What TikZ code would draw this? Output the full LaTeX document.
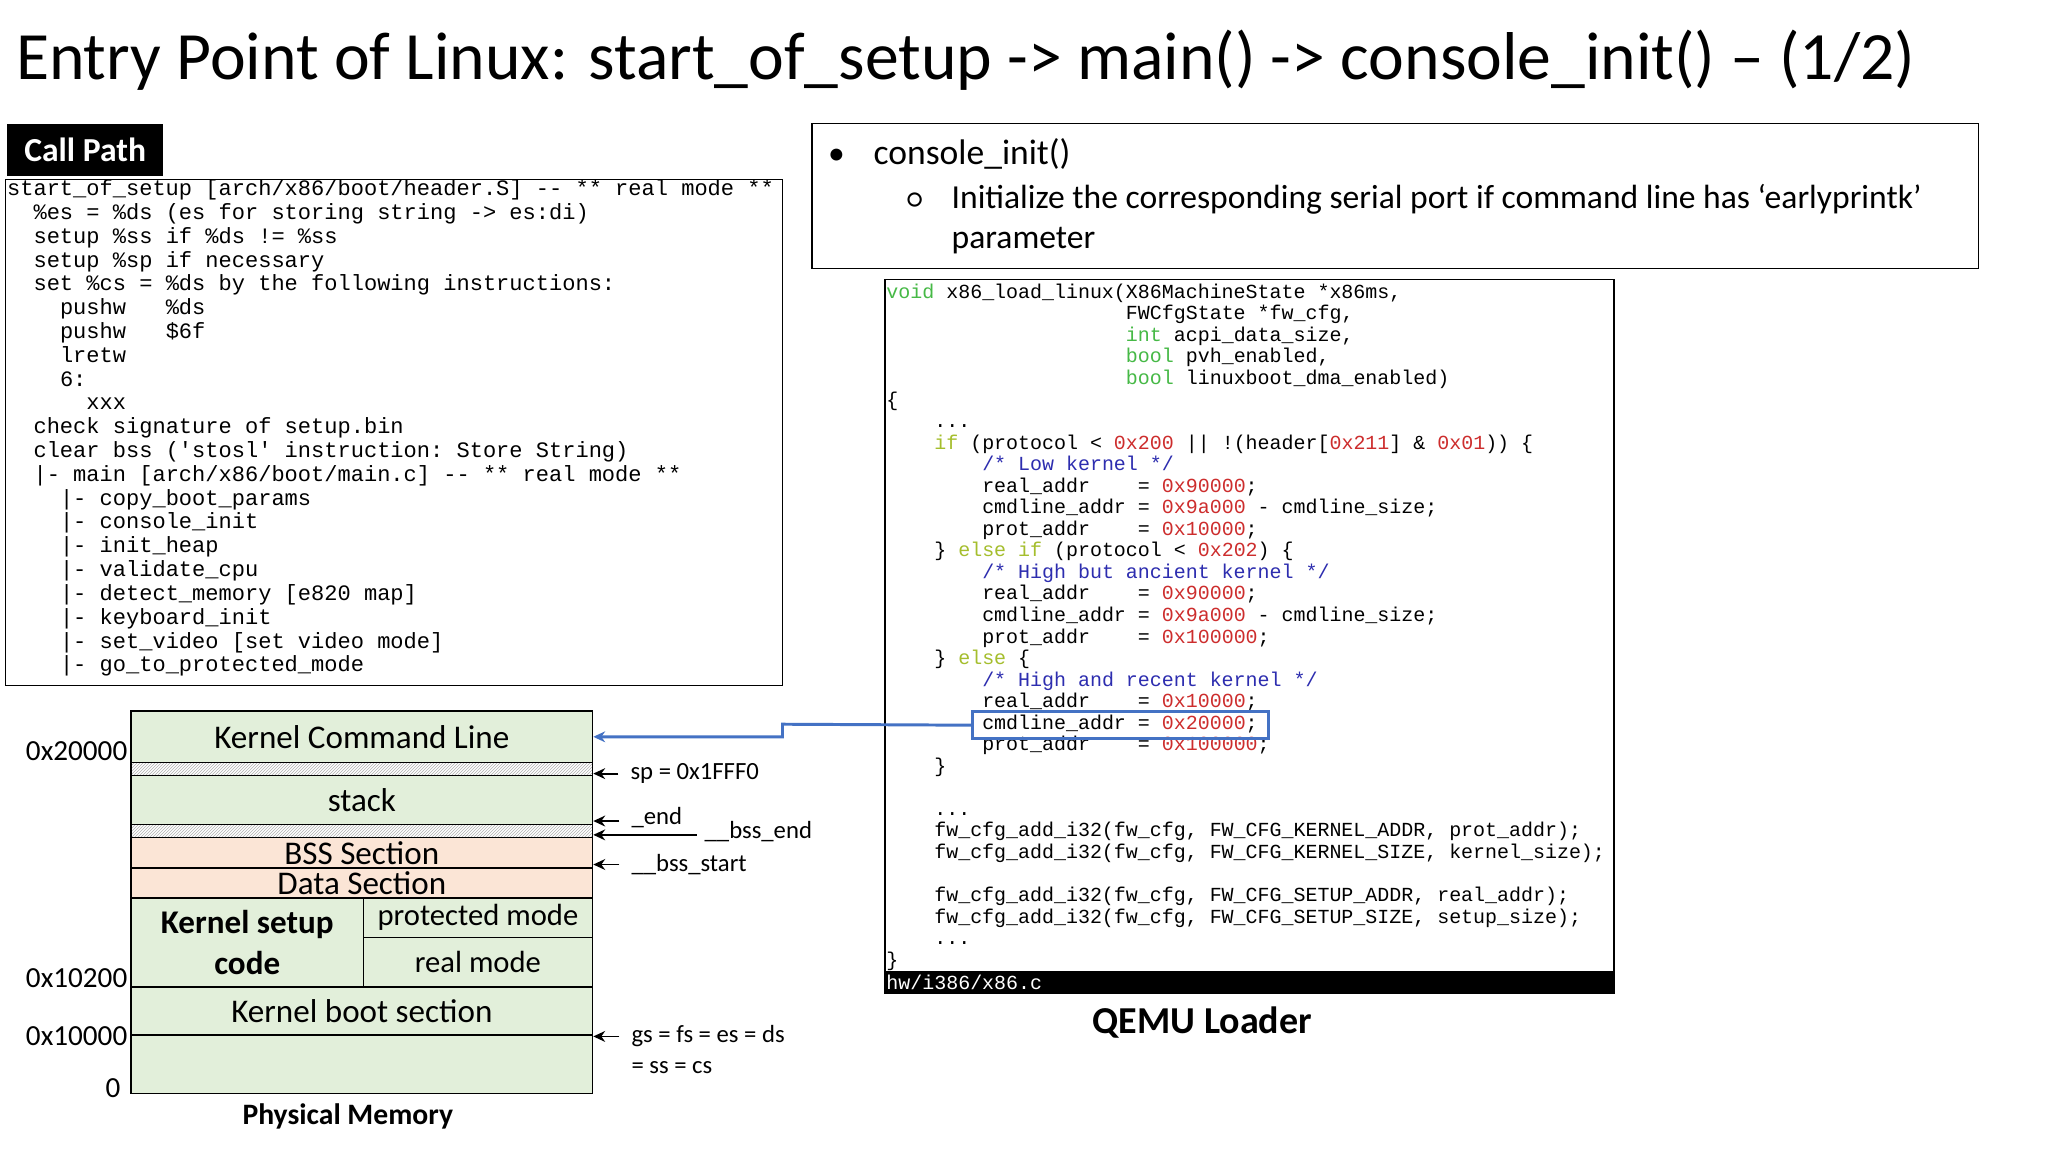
\documentclass[tikz,border=0pt]{standalone}
\usepackage{fontspec}
\setmainfont{Carlito}
\setmonofont{Liberation Mono}
\usetikzlibrary{patterns,arrows.meta}
\definecolor{kw}{RGB}{70,185,70}
\definecolor{kif}{RGB}{165,190,45}
\definecolor{num}{RGB}{205,45,45}
\definecolor{cmt}{RGB}{45,45,175}
\definecolor{memg}{RGB}{226,239,218}
\definecolor{memp}{RGB}{251,229,214}
\definecolor{hlb}{RGB}{68,114,196}
\newcommand\K[1]{\textcolor{kw}{#1}}
\newcommand\I[1]{\textcolor{kif}{#1}}
\newcommand\N[1]{\textcolor{num}{#1}}
\newcommand\C[1]{\textcolor{cmt}{#1}}
\newcounter{ln}
\newcommand\LL[2]{\stepcounter{ln}\node[lcode] (l\theln) at (7,{198+24.1*#1}) {#2};}
\newcommand\QL[2]{\stepcounter{ln}\node[qcode] (q\theln) at (897,{302+21.8*#1}) {#2};}
\begin{document}
\begin{tikzpicture}[x=1pt,y=-1pt,
  lcode/.style={anchor=base west,inner sep=0,font=\fontsize{22.3}{24}\ttfamily},
  qcode/.style={anchor=base west,inner sep=0,font=\fontsize{20.2}{22}\ttfamily},
  mem/.style={draw,line width=1.5pt,fill=memg,anchor=north west,inner sep=0,font=\fontsize{33.5}{36}\selectfont},
  hatch/.style={draw,line width=1.5pt,pattern=north east lines,pattern color=gray!60,anchor=north west,inner sep=0,minimum width=467pt},
  addr/.style={anchor=east,inner sep=0,font=\fontsize{29.5}{31}\selectfont},
  rl/.style={anchor=west,inner sep=0,font=\fontsize{25}{27}\selectfont},
  rarr/.style={-{Stealth[length=12pt,width=11pt]},line width=1.8pt}]
\useasboundingbox (0,0) rectangle (2048,1152);
\fill[white] (0,0) rectangle (2048,1152);
\begin{scope}[transform canvas={scale=0.988}]
% title
\node[anchor=base west,inner sep=0,font=\fontsize{68.5}{72}\selectfont] (title) at (16,80) {Entry Point of Linux: start\_of\_setup -> main() -> console\_init() – (1/2)};
% call path
\node[fill=black,text=white,anchor=north west,minimum width=158pt,minimum height=53pt,inner sep=0,font=\fontsize{34}{36}\bfseries] (cp) at (7,125) {Call Path};
\node[draw,line width=1.5pt,anchor=north west,minimum width=786pt,minimum height=512pt,inner sep=0] (cbox) at (5,181) {};
\LL{0}{start\_of\_setup [arch/x86/boot/header.S] -- ** real mode **}
\LL{1}{~~\%es = \%ds (es for storing string -> es:di)}
\LL{2}{~~setup \%ss if \%ds != \%ss}
\LL{3}{~~setup \%sp if necessary}
\LL{4}{~~set \%cs = \%ds by the following instructions:}
\LL{5}{~~~~pushw~~~\%ds}
\LL{6}{~~~~pushw~~~\$6f}
\LL{7}{~~~~lretw}
\LL{8}{~~~~6:}
\LL{9}{~~~~~~xxx}
\LL{10}{~~check signature of setup.bin}
\LL{11}{~~clear bss ('stosl' instruction: Store String)}
\LL{12}{~~|- main [arch/x86/boot/main.c] -- ** real mode **}
\LL{13}{~~~~|- copy\_boot\_params}
\LL{14}{~~~~|- console\_init}
\LL{15}{~~~~|- init\_heap}
\LL{16}{~~~~|- validate\_cpu}
\LL{17}{~~~~|- detect\_memory [e820 map]}
\LL{18}{~~~~|- keyboard\_init}
\LL{19}{~~~~|- set\_video [set video mode]}
\LL{20}{~~~~|- go\_to\_protected\_mode}
% bullet box
\node[draw,line width=1.5pt,anchor=north west,minimum width=1181pt,minimum height=147pt,inner sep=0] (bbox) at (821,124) {};
\node[anchor=base west,inner sep=0,font=\fontsize{34}{36}\selectfont] (b1) at (838,166) {•};
\node[anchor=base west,inner sep=0,font=\fontsize{36}{38}\selectfont] (b1t) at (884,166) {console\_init()};
\node[anchor=base west,inner sep=0,font=\fontsize{28}{32}\selectfont] (b2) at (918,211) {○};
\node[anchor=base west,inner sep=0,font=\fontsize{34}{36}\selectfont] (b2t) at (963,211) {Initialize the corresponding serial port if command line has ‘earlyprintk’};
\node[anchor=base west,inner sep=0,font=\fontsize{34}{36}\selectfont] (b3t) at (963,252) {parameter};
% qemu box
\node[draw,line width=1.5pt,anchor=north west,minimum width=738pt,minimum height=723pt,inner sep=0] (qbox) at (895,282) {};
\node[fill=black,anchor=north west,minimum width=738pt,minimum height=22pt,inner sep=0] (qbar) at (895,983) {};
\node[anchor=west,inner sep=0,text=white,font=\fontsize{20.2}{22}\ttfamily] (qfile) at (897,994) {hw/i386/x86.c};
\QL{0}{\K{void} x86\_load\_linux(X86MachineState *x86ms,}
\QL{1}{~~~~~~~~~~~~~~~~~~~~FWCfgState *fw\_cfg,}
\QL{2}{~~~~~~~~~~~~~~~~~~~~\K{int} acpi\_data\_size,}
\QL{3}{~~~~~~~~~~~~~~~~~~~~\K{bool} pvh\_enabled,}
\QL{4}{~~~~~~~~~~~~~~~~~~~~\K{bool} linuxboot\_dma\_enabled)}
\QL{5}{\{}
\QL{6}{~~~~...}
\QL{7}{~~~~\I{if} (protocol < \N{0x200} || !(header[\N{0x211}] \& \N{0x01})) \{}
\QL{8}{~~~~~~~~\C{/* Low kernel */}}
\QL{9}{~~~~~~~~real\_addr~~~~= \N{0x90000};}
\QL{10}{~~~~~~~~cmdline\_addr = \N{0x9a000} - cmdline\_size;}
\QL{11}{~~~~~~~~prot\_addr~~~~= \N{0x10000};}
\QL{12}{~~~~\} \I{else if} (protocol < \N{0x202}) \{}
\QL{13}{~~~~~~~~\C{/* High but ancient kernel */}}
\QL{14}{~~~~~~~~real\_addr~~~~= \N{0x90000};}
\QL{15}{~~~~~~~~cmdline\_addr = \N{0x9a000} - cmdline\_size;}
\QL{16}{~~~~~~~~prot\_addr~~~~= \N{0x100000};}
\QL{17}{~~~~\} \I{else} \{}
\QL{18}{~~~~~~~~\C{/* High and recent kernel */}}
\QL{19}{~~~~~~~~real\_addr~~~~= \N{0x10000};}
\QL{20}{~~~~~~~~cmdline\_addr = \N{0x20000};}
\QL{21}{~~~~~~~~prot\_addr~~~~= \N{0x100000};}
\QL{22}{~~~~\}}
\QL{24}{~~~~...}
\QL{25}{~~~~fw\_cfg\_add\_i32(fw\_cfg, FW\_CFG\_KERNEL\_ADDR, prot\_addr);}
\QL{26}{~~~~fw\_cfg\_add\_i32(fw\_cfg, FW\_CFG\_KERNEL\_SIZE, kernel\_size);}
\QL{28}{~~~~fw\_cfg\_add\_i32(fw\_cfg, FW\_CFG\_SETUP\_ADDR, real\_addr);}
\QL{29}{~~~~fw\_cfg\_add\_i32(fw\_cfg, FW\_CFG\_SETUP\_SIZE, setup\_size);}
\QL{30}{~~~~...}
\QL{31}{\}}
\node[draw=hlb,line width=3pt,anchor=north west,minimum width=299pt,minimum height=27pt,inner sep=0] (hl) at (983,719) {};
\node[anchor=base,inner sep=0,font=\fontsize{38.5}{40}\bfseries] (qemu) at (1217,1046) {QEMU Loader};
% memory
\node[mem,minimum width=467pt,minimum height=52pt] (kcl) at (132,719) {Kernel Command Line};
\node[hatch,minimum height=13pt] (h1) at (132,771) {};
\node[mem,minimum width=467pt,minimum height=50pt] (stk) at (132,784) {stack};
\node[hatch,minimum height=13pt] (h2) at (132,834) {};
\node[mem,fill=memp,minimum width=467pt,minimum height=31pt] (bss) at (132,847) {BSS Section};
\node[mem,fill=memp,minimum width=467pt,minimum height=30pt] (data) at (132,878) {Data Section};
\node[mem,minimum width=235pt,minimum height=90pt,align=center,font=\fontsize{33.5}{42}\bfseries] (ksc) at (132,908) {Kernel setup\\code};
\node[mem,minimum width=232pt,minimum height=40pt,font=\fontsize{31}{33}\selectfont] (pm) at (367,908) {protected mode};
\node[mem,minimum width=232pt,minimum height=50pt,font=\fontsize{31}{33}\selectfont] (rm) at (367,948) {real mode};
\node[mem,minimum width=467pt,minimum height=49pt] (kbs) at (132,998) {Kernel boot section};
\node[mem,minimum width=467pt,minimum height=59pt] (low) at (132,1047) {};
\node[anchor=base,inner sep=0,font=\fontsize{30}{32}\bfseries] (pmem) at (352,1138) {Physical Memory};
\node[addr] (a1) at (129,760) {0x20000};
\node[addr] (a2) at (129,990) {0x10200};
\node[addr] (a3) at (129,1049) {0x10000};
\node[addr] (a4) at (122,1101) {0};
% right labels
\node[rl] (sp) at (638,783) {sp = 0x1FFF0};
\draw[rarr] (sp.west) ++(-12,0) coordinate (spA) -- (spA-|kcl.east);
\node[rl] (end) at (639,828) {\_end};
\coordinate (endA) at (627,831);
\draw[rarr] (endA) -- (endA-|kcl.east);
\node[rl] (bend) at (713,842) {\_\_bss\_end};
\coordinate (bendA) at (705,845);
\draw[rarr] (bendA) -- (bendA-|kcl.east);
\node[rl] (bst) at (639,875) {\_\_bss\_start};
\coordinate (bstA) at (627,875);
\draw[rarr] (bstA) -- (bstA-|kcl.east);
\node[rl] (gs) at (639,1049) {gs = fs = es = ds};
\coordinate (gsA) at (627,1049);
\draw[rarr] (gsA) -- (gsA-|kcl.east);
\node[rl] (ss) at (639,1081) {= ss = cs};
% connector
\coordinate (bendpt) at (792,733);
\draw[hlb,line width=3pt,-{Stealth[length=12pt,width=11pt]}] (hl.west) -- (bendpt) |- (kcl.east);
\end{scope}
\end{tikzpicture}
\end{document}
